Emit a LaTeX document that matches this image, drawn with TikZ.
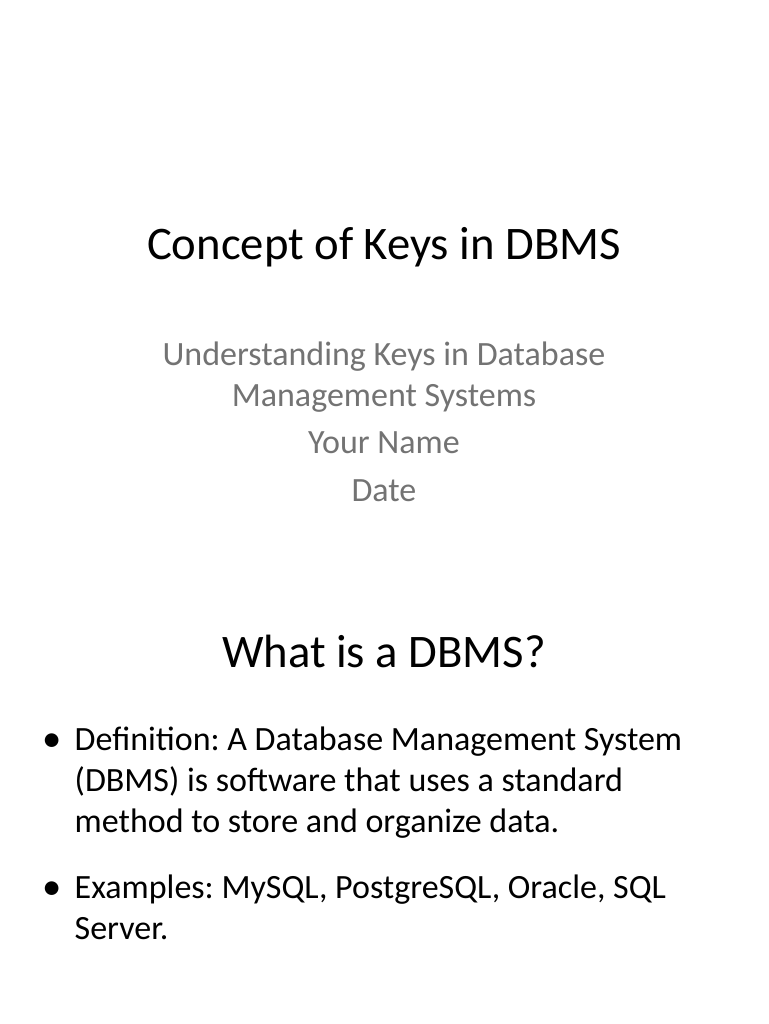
\documentclass[tikz,border=0pt]{standalone}
\usepackage{fontspec}
\setmainfont{Carlito}
\begin{document}
\frenchspacing
\begin{tikzpicture}[x=0.75pt,y=-0.75pt,
  title/.style={anchor=base,font=\fontsize{35}{40}\selectfont,text=black},
  sub/.style={anchor=base,font=\fontsize{25.5}{30}\selectfont,text=black!55},
  body/.style={anchor=base west,font=\fontsize{25.5}{30}\selectfont,text=black}]
\useasboundingbox (0,0) rectangle (768,1024);
\fill[white] (0,0) rectangle (768,1024);
\node[title] (t1) at (384,259) {Concept of Keys in DBMS};
\node[sub] (s1) at (384,365) {Understanding Keys in Database};
\node[sub] (s2) at (384,406) {Management Systems};
\node[sub] (s3) at (384,453) {Your Name};
\node[sub] (s4) at (384,501) {Date};
\node[title] (t2) at (384,667) {What is a DBMS?};
\node[body,font=\fontsize{29}{30}\selectfont] (b0) at (38,751) {•};
\node[body] (b1) at (70,750) {Definition: A Database Management System};
\node[body] (b2) at (70,791) {(DBMS) is software that uses a standard};
\node[body] (b3) at (70,832) {method to store and organize data.};
\node[body,font=\fontsize{29}{30}\selectfont] (b4) at (38,899) {•};
\node[body] (b5) at (70,898) {Examples: MySQL, PostgreSQL, Oracle, SQL};
\node[body] (b6) at (70,939) {Server.};
\end{tikzpicture}
\end{document}
